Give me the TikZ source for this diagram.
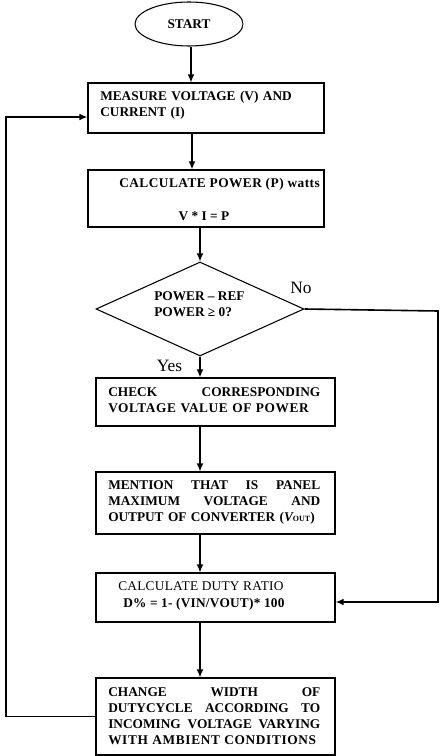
\documentclass[tikz,border=0pt]{standalone}
\usepackage{fontspec}
\setmainfont{Liberation Serif}
\usetikzlibrary{arrows.meta,shapes.geometric}
\newcommand\myls[2]{{\addfontfeature{LetterSpace=#1}#2}}
\begin{document}
\begin{tikzpicture}[x=0.75pt,y=-0.75pt,
  box/.style={draw,line width=0.8pt,rectangle,inner sep=0pt,font=\bfseries\fontsize{10}{12}\selectfont},
  txt/.style={align=left,inner sep=0pt,font=\bfseries\fontsize{10}{12}\selectfont},
  arr/.style={line width=0.9pt,-{Latex[length=6pt,width=5pt]}},
  lbl/.style={inner sep=0pt,font=\fontsize{13}{15}\selectfont}]
\useasboundingbox (0,0) rectangle (442,756);
% start
\node[draw,ellipse,line width=0.8pt,minimum width=81pt,minimum height=33pt,inner sep=0pt,font=\bfseries\fontsize{10}{12}\selectfont] (start) at (189,24) {START};
% boxes
\node[box,minimum width=177pt,minimum height=37.5pt] (b1) at (206,108) {};
\node[txt,text width=159pt,anchor=west] (t1) at (100,105) {MEASURE VOLTAGE (V) AND\\CURRENT (I)};
\node[box,minimum width=177pt,minimum height=42.75pt] (b2) at (206,198.5) {};
\node[txt,anchor=west] (t2a) at (119,184) {\myls{3.6}{CALCULATE POWER (P) watts}};
\node[txt] (t2b) at (204,216) {V * I = P};
% diamond
\node[draw,diamond,line width=0.8pt,minimum width=156pt,minimum height=70.5pt,inner sep=0pt] (d) at (200,309) {};
\node[txt,anchor=west] (td) at (154,304.5) {POWER – REF\\POWER ≥ 0?};
\node[lbl] (no) at (301,288) {No};
\node[lbl] (yes) at (169.5,366) {Yes};
% box 3
\node[box,minimum width=179.25pt,minimum height=36pt] (b3) at (215.5,402) {};
\node[txt,text width=159pt,anchor=west] (t3) at (108,400) {CHECK\hfill CORRESPONDING\\\myls{4.5}{VOLTAGE VALUE OF POWER}};
% box 4
\node[box,minimum width=179.25pt,minimum height=46.5pt] (b4) at (215.5,503) {};
\node[txt,text width=159pt,anchor=west] (t4) at (108,502.5) {MENTION\hfill THAT\hfill IS\hfill PANEL\\MAXIMUM\hfill VOLTAGE\hfill AND\\\myls{-0.4}{OUTPUT OF CONVERTER ({\itshape V}{\fontsize{6}{6}\selectfont OUT})}};
% box 5
\node[box,minimum width=179.25pt,minimum height=36.75pt] (b5) at (215.5,597.5) {};
\node[txt,font=\mdseries\fontsize{10}{12}\selectfont,anchor=west] (t5a) at (118,586) {\myls{2}{CALCULATE DUTY RATIO}};
\node[txt,anchor=west] (t5b) at (123,604) {\myls{1.8}{D\% = 1- (VIN/VOUT)* 100}};
% box 6
\node[box,minimum width=179.25pt,minimum height=57.75pt] (b6) at (215.5,716.5) {};
\node[txt,text width=159pt,anchor=west] (t6) at (108,716.5) {CHANGE\hfill WIDTH\hfill OF\\DUTYCYCLE\hfill ACCORDING\hfill TO\\INCOMING\hfill VOLTAGE\hfill VARYING\\\myls{4.8}{WITH AMBIENT CONDITIONS}};
% helper coordinates
\coordinate (c1) at (191,0);
\coordinate (c2) at (192,0);
\coordinate (c3) at (200,0);
\coordinate (nr1) at (438,311);
\coordinate (nr2) at (438,602);
\coordinate (fb1) at (6,716.5);
\coordinate (fb2) at (6,117);
% connectors
\draw[arr] (c1 |- start.south) -- (c1 |- b1.north);
\draw[arr] (c2 |- b1.south) -- (c2 |- b2.north);
\draw[arr] (c3 |- b2.south) -- (d.north);
\draw[arr] (d.south) -- (c3 |- b3.north);
\draw[arr] (c3 |- b3.south) -- (c3 |- b4.north);
\draw[arr] (c3 |- b4.south) -- (c3 |- b5.north);
\draw[arr] (c3 |- b5.south) -- (c3 |- b6.north);
\draw[arr,line width=1.2pt] (d.east) -- (nr1) -- (nr2) -- (b5.east |- nr2);
\draw[arr,line width=1.4pt] (b6.west) -- (fb1) -- (fb2) -- (b1.west |- fb2);
\end{tikzpicture}
\end{document}
